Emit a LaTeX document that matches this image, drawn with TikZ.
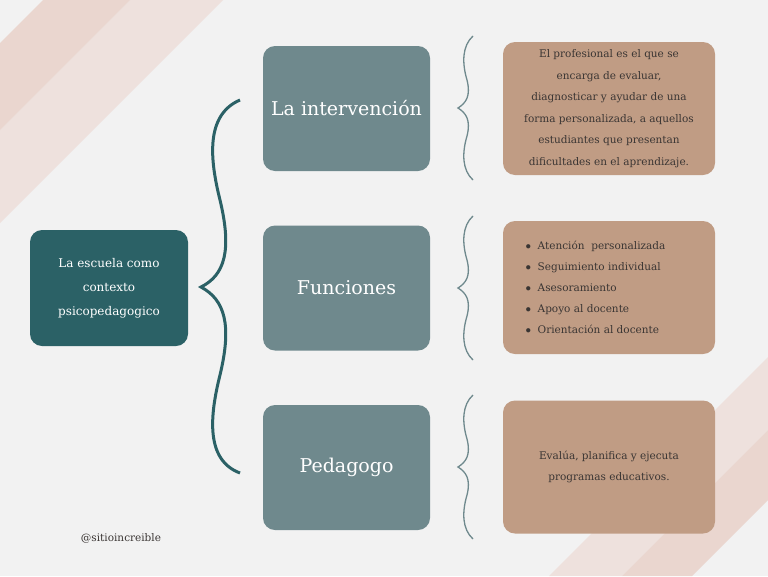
\documentclass[tikz,border=0pt]{standalone}
\usepackage{fontspec}
\setmainfont{DejaVu Serif}
\definecolor{bg}{HTML}{F2F2F2}
\definecolor{teal}{HTML}{2B6166}
\definecolor{slate}{HTML}{6F898D}
\definecolor{tan}{HTML}{C09C84}
\definecolor{pinkA}{HTML}{EAD6CF}
\definecolor{pinkB}{HTML}{EEE1DD}
\definecolor{txt}{HTML}{3A3533}
\tikzset{
  midbox/.style={fill=slate,rounded corners=12pt,minimum width=167pt,minimum height=125pt,text=white,font=\fontsize{19}{22}\selectfont,inner sep=0pt},
  rbox/.style={fill=tan,rounded corners=12pt,minimum width=212pt,minimum height=133pt,text=txt,font=\fontsize{10.5}{21}\selectfont,align=center,inner sep=0pt},
  brace/.style={draw=slate,line width=1.3pt},
}
\begin{document}
\begin{tikzpicture}[x=1pt,y=-1pt]
\fill[bg] (0,0) rectangle (768,576);
\useasboundingbox (0,0) rectangle (768,576);
\fill[pinkB] (130,0) -- (223,0) -- (0,223) -- (0,130) -- cycle;
\fill[pinkA] (43,0) -- (130,0) -- (0,130) -- (0,43) -- cycle;
\fill[pinkB] (768,357) -- (768,430) -- (622,576) -- (549,576) -- cycle;
\fill[pinkA] (768,430) -- (768,500) -- (692,576) -- (622,576) -- cycle;
\node[fill=teal,rounded corners=12pt,minimum width=158pt,minimum height=116pt,text=white,align=center,font=\fontsize{12}{24}\selectfont,inner sep=0pt] (L) at (109,288) {La escuela como\\contexto\\psicopedagogico};
\node[midbox] (A) at (346.5,108.5) {La intervención};
\node[midbox] (B) at (346.5,288) {Funciones};
\node[midbox] (C) at (346.5,467.5) {Pedagogo};
\node[rbox,font=\fontsize{10.5}{21.5}\selectfont] (RA) at (609,108.5) {El profesional es el que se\\encarga de evaluar,\\diagnosticar y ayudar de una\\forma personalizada, a aquellos\\estudiantes que presentan\\dificultades en el aprendizaje.};
\node[rbox] (RB) at (609,287.5) {};
\node[text=txt,font=\fontsize{10.5}{21}\selectfont,anchor=west,align=left] (RBt) at (522,287) {$\bullet$\ \ Atención\ \ personalizada\\$\bullet$\ \ Seguimiento individual\\$\bullet$\ \ Asesoramiento\\$\bullet$\ \ Apoyo al docente\\$\bullet$\ \ Orientación al docente};
\node[rbox] (RC) at (609,467) {Evalúa, planifica y ejecuta\\programas educativos.};
% big brace
\coordinate (bt) at (240,100);
\coordinate (bm) at (201,287);
\coordinate (bb) at (240,473);
\draw[teal,line width=3pt] (bt) .. controls (205,115) and (210,160) .. (220,200) .. controls (232,250) and (225,275) .. (bm) .. controls (225,300) and (232,325) .. (220,375) .. controls (210,415) and (205,460) .. (bb);
% small braces
\foreach \y in {108,288,467}{
  \draw[brace] (473,\y-72) .. controls (462,\y-62) and (462,\y-45) .. (467,\y-28) .. controls (471,\y-12) and (466,\y-5) .. (458,\y) .. controls (466,\y+5) and (471,\y+12) .. (467,\y+28) .. controls (462,\y+45) and (462,\y+62) .. (473,\y+72);
}
\node[text=txt,font=\fontsize{10.5}{12}\selectfont] (tag) at (121,538) {@sitioincreible};
\end{tikzpicture}
\end{document}
